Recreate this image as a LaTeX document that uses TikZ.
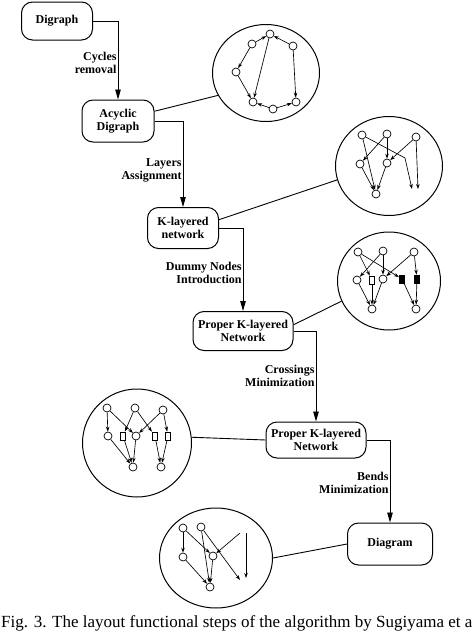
\documentclass[tikz,border=0pt]{standalone}
\usepackage{fontspec}
\setmainfont{Liberation Serif}
\usepackage{tikz}
\usetikzlibrary{arrows.meta}
\usetikzlibrary{shapes.geometric}

\begin{document}
\begin{tikzpicture}[x=1pt, y=-1pt,
    stage/.style={draw, line width=1pt, rounded corners=11pt, align=center, inner sep=2pt, font=\bfseries\fontsize{12}{13}\selectfont},
    flow/.style={line width=0.9pt, -{Triangle[length=10pt,width=5.5pt]}},
    lbl/.style={align=right, inner sep=1pt, font=\bfseries\fontsize{12}{13}\selectfont},
    lens/.style={draw, ellipse, line width=1pt, inner sep=0pt},
    vx/.style={draw, circle, line width=0.7pt, minimum size=8pt, inner sep=0pt},
    dm/.style={draw, rectangle, line width=0.7pt, minimum width=5.5pt, minimum height=8pt, inner sep=0pt},
    dmf/.style={dm, fill=black},
    ed/.style={line width=0.65pt, -{Stealth[length=5pt,width=3.5pt]}}]
                      \useasboundingbox (0,0) rectangle (474,640);
                      % stages
                      \node[stage, minimum width=71pt, minimum height=38pt] (dig) at (57,21) {Digraph};
                      \node[stage, minimum width=72pt, minimum height=42pt] (acy) at (118,121) {Acyclic\\Digraph};
                      \node[stage, minimum width=71pt, minimum height=41pt] (kl) at (183,228) {K-layered\\network};
                      \node[stage, minimum width=100pt, minimum height=39pt] (pk1) at (243,331) {Proper K-layered\\Network};
                      \node[stage, minimum width=100pt, minimum height=36pt] (pk2) at (316,440) {Proper K-layered\\Network};
                      \node[stage, minimum width=85pt, minimum height=42pt] (dia) at (390,544) {Diagram};
                      \draw[flow] (dig.east) -| node[lbl, pos=0.77, left] {Cycles\\removal} (acy.north);
                      \draw[flow] (acy.east) -| node[lbl, pos=0.79, left] {Layers\\Assignment} (kl.north);
                      \draw[flow] (kl.east) -| node[lbl, pos=0.77, left] {Dummy Nodes\\Introduction} (pk1.north);
                      \draw[flow] (pk1.east) -| node[lbl, pos=0.75, left] {Crossings\\Minimization} (pk2.north);
                      \draw[flow] (pk2.east) -| node[lbl, pos=0.76, left] {Bends\\Minimization} (dia.north);
                      % lenses
                      \node[lens, minimum width=107pt, minimum height=97pt] (c1) at (266,73) {};
                      \node[lens, minimum width=107pt, minimum height=99pt] (c2) at (389,166) {};
                      \node[lens, minimum width=103pt, minimum height=98pt] (c3) at (389,281) {};
                      \node[lens, minimum width=109pt, minimum height=108pt] (c4) at (137,443) {};
                      \node[lens, minimum width=113pt, minimum height=100pt] (c5) at (216,558) {};
                      \draw[line width=0.9pt] (acy.15) -- (c1.205);
                      \draw[line width=0.9pt] (kl.13) -- (c2.195);
                      \draw[line width=0.9pt] (pk1.7) -- (c3.203);
                      \draw[line width=0.9pt] (c4.6) -- (pk2.west);
                      \draw[line width=0.9pt] (c5.east) -- (dia.west);
                      % acyclic digraph
                      \node[vx] (a1) at (270,34) {};
                      \node[vx] (a2) at (252,44) {};
                      \node[vx] (a3) at (293,46) {};
                      \node[vx] (a4) at (236,72) {};
                      \node[vx] (a5) at (253,102) {};
                      \node[vx] (a6) at (273,109) {};
                      \node[vx] (a7) at (296,102) {};
                      \draw[ed] (a2) -- (a1); \draw[ed] (a3) -- (a1); \draw[ed] (a2) -- (a4);
                      \draw[ed] (a4) -- (a5); \draw[ed] (a1) -- (a5); \draw[ed] (a3) -- (a7);
                      \draw[ed] (a6) -- (a5); \draw[ed] (a6) -- (a7);
                      % k-layered network
                      \node[vx] (k1) at (362,135) {};
                      \node[vx] (k2) at (387,134) {};
                      \node[vx] (k3) at (416,137) {};
                      \node[vx] (k4) at (360,164) {};
                      \node[vx] (k5) at (387,163) {};
                      \node[vx] (k6) at (376,194) {};
                      \coordinate (kb) at (405,158);
                      \coordinate (ke1) at (412,189);
                      \coordinate (ke2) at (418,189);
                      \draw[ed] (k2) -- (k4); \draw[ed] (k2) -- (k5); \draw[ed] (k3) -- (k5);
                      \draw[ed] (k1) -- (k6); \draw[ed] (k4) -- (k6); \draw[ed] (k5) -- (k6);
                      \draw[ed] (k1) -- (kb) -- (ke1); \draw[ed] (k3) -- (ke2);
                      % proper network
                      \node[vx] (d1) at (358,252) {};
                      \node[vx] (d2) at (383,251) {};
                      \node[vx] (d3) at (414,252) {};
                      \node[vx] (d4) at (357,280) {};
                      \node[dm] (d5) at (372,280) {};
                      \node[vx] (d6) at (383,279) {};
                      \node[dmf] (d7) at (402,279) {};
                      \node[dmf] (d8) at (417,279) {};
                      \node[vx] (d9) at (372,309) {};
                      \node[vx] (d10) at (416,309) {};
                      \draw[ed] (d1) -- (d5); \draw[ed] (d1) -- (d7); \draw[ed] (d2) -- (d4);
                      \draw[ed] (d2) -- (d6); \draw[ed] (d3) -- (d6); \draw[ed] (d3) -- (d8);
                      \draw[ed] (d4) -- (d9); \draw[ed] (d5) -- (d9); \draw[ed] (d6) -- (d9);
                      \draw[ed] (d7) -- (d10); \draw[ed] (d8) -- (d10);
                      % crossings minimized
                      \node[vx] (x1) at (107,408) {};
                      \node[vx] (x2) at (135,408) {};
                      \node[vx] (x3) at (163,410) {};
                      \node[vx] (x4) at (108,436) {};
                      \node[dm] (x5) at (123,436) {};
                      \node[vx] (x6) at (136,436) {};
                      \node[dm] (x7) at (155,436) {};
                      \node[dm] (x8) at (168,436) {};
                      \node[vx] (x9) at (133,467) {};
                      \node[vx] (x10) at (161,467) {};
                      \draw[ed] (x1) -- (x4); \draw[ed] (x1) -- (x6); \draw[ed] (x2) -- (x5);
                      \draw[ed] (x2) -- (x7); \draw[ed] (x3) -- (x6); \draw[ed] (x3) -- (x8);
                      \draw[ed] (x4) -- (x9); \draw[ed] (x5) -- (x9); \draw[ed] (x6) -- (x9);
                      \draw[ed] (x7) -- (x10); \draw[ed] (x8) -- (x10);
                      % final diagram
                      \node[vx] (f1) at (183,528) {};
                      \node[vx] (f2) at (201,527) {};
                      \node[vx] (f3) at (183,557) {};
                      \node[vx] (f4) at (213,556) {};
                      \node[vx] (f5) at (210,587) {};
                      \coordinate (fs1) at (240,533);
                      \coordinate (fs2) at (246,533);
                      \coordinate (fe1) at (240,580);
                      \coordinate (fe2) at (246,578);
                      \draw[ed] (f1) -- (f3); \draw[ed] (f1) -- (f4); \draw[ed] (f2) -- (f5);
                      \draw[ed] (f4) -- (f5); \draw[ed] (f3) -- (f5); \draw[ed] (f2) -- (fe1);
                      \draw[ed] (fs1) -- (f4); \draw[ed] (fs2) -- (fe2);
                      % caption
                      \node[anchor=base west, inner sep=0pt, font=\fontsize{17}{20}\selectfont] (cap) at (1,627) {Fig. 3. The layout functional steps of the algorithm by Sugiyama et a};
                  \end{tikzpicture}
\end{document}
